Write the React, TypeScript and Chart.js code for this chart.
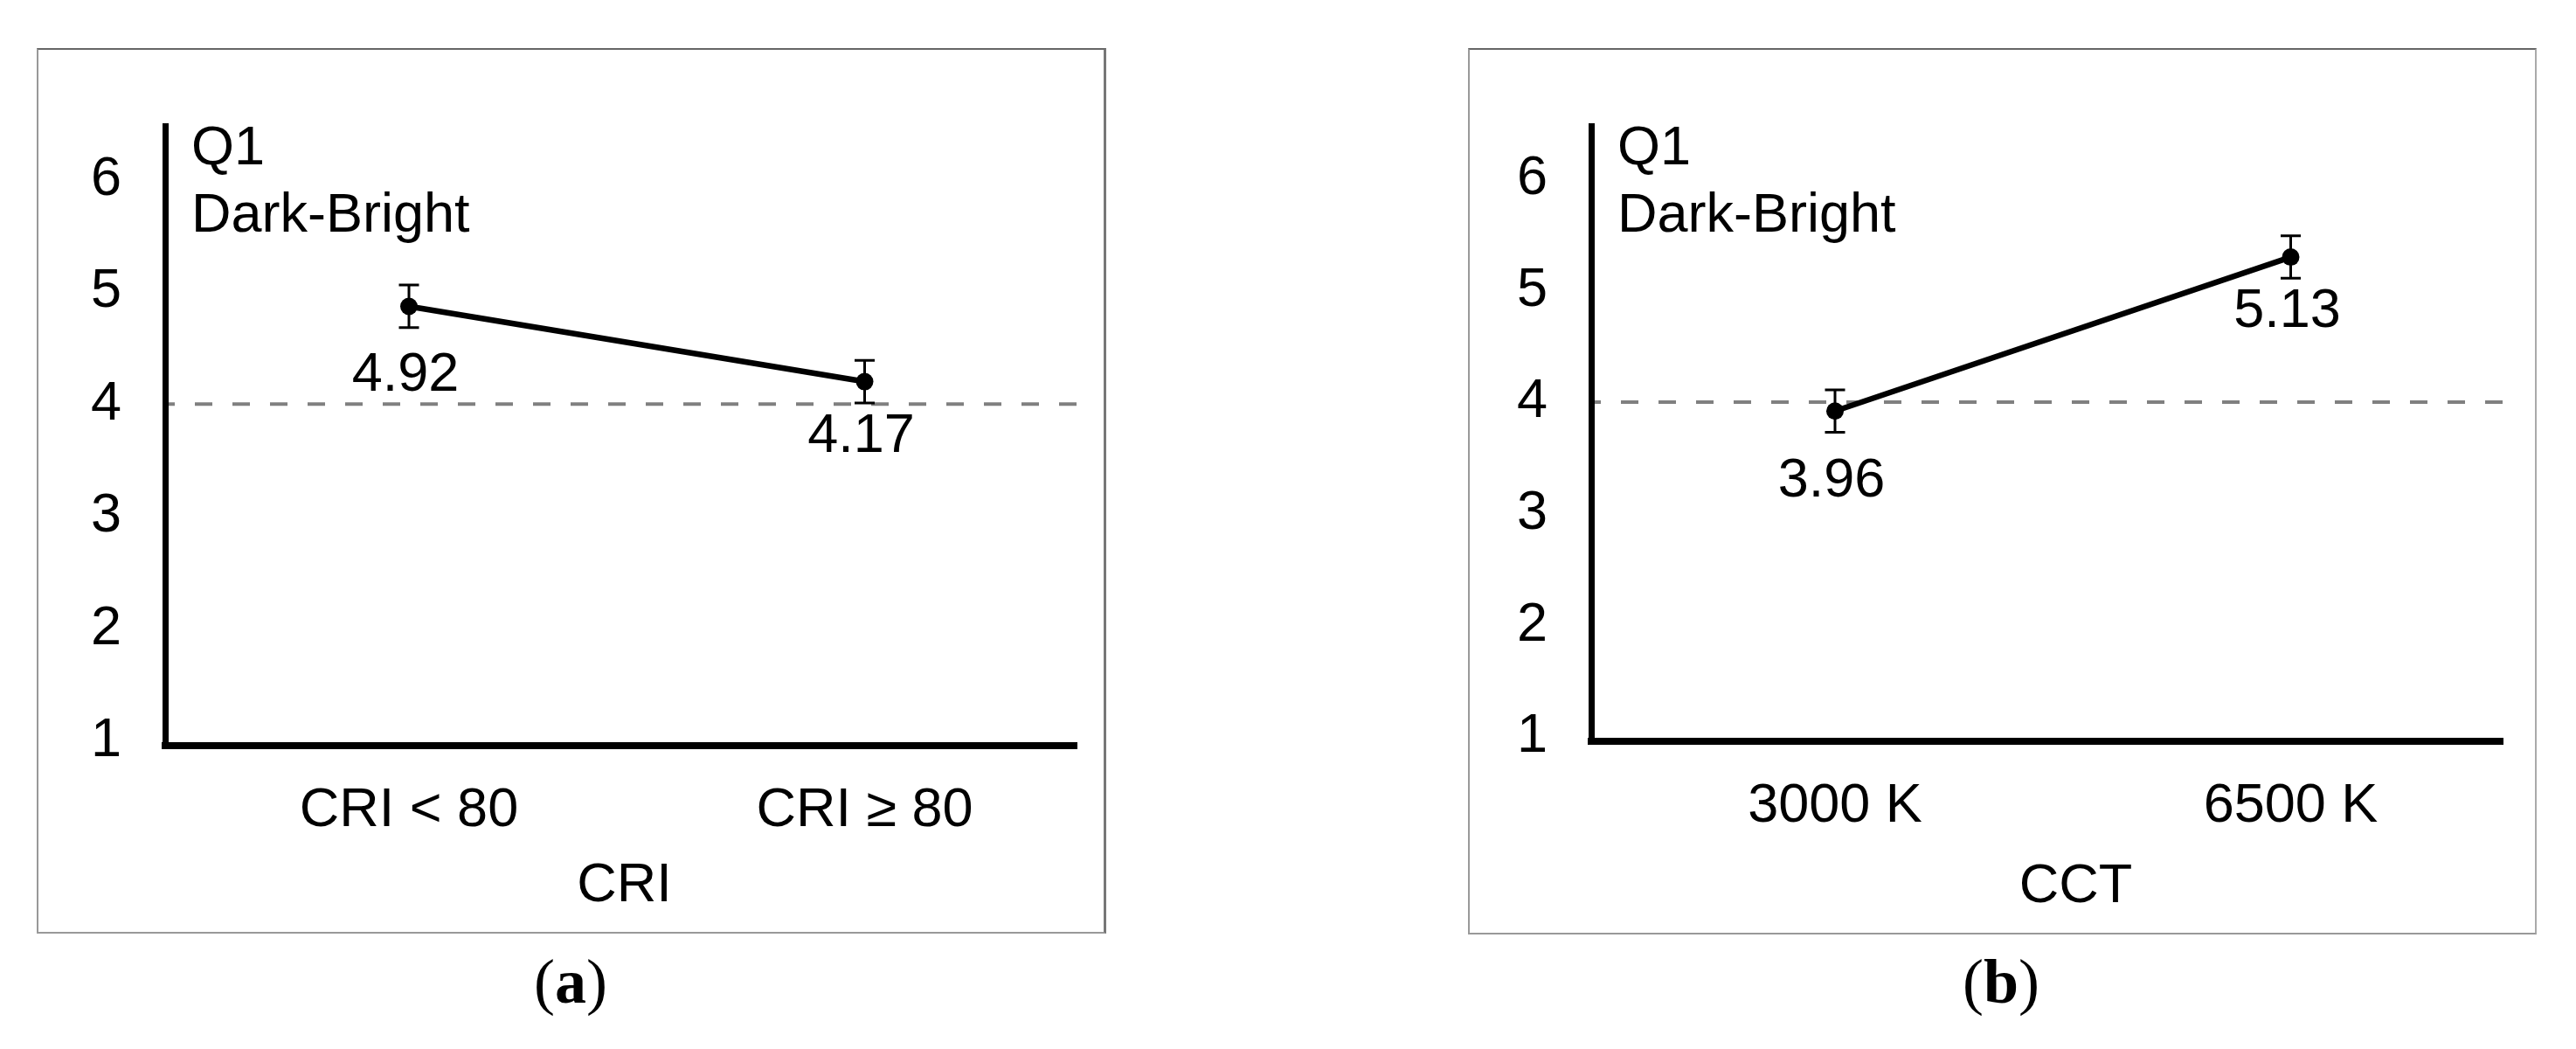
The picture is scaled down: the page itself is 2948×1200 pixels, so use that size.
import { useEffect, useRef } from "react";
import { Chart, registerables } from "chart.js";

Chart.register(...registerables);

// ---------- data ----------
const criCategories = ["CRI < 80", "CRI ≥ 80"];
const criMeans = [4.87, 4.2];
const criErrors = [0.19, 0.19];
const criLabels = ["4.92", "4.17"];

const cctCategories = ["3000 K", "6500 K"];
const cctMeans = [3.92, 5.3];
const cctErrors = [0.19, 0.19];
const cctLabels = ["3.96", "5.13"];

const yTickValues = [1, 2, 3, 4, 5, 6];
const referenceLevel = 4;
const questionLines = ["Q1", "Dark-Bright"];

// ---------- style ----------
const FONT = '"Liberation Sans", Arial, Helvetica, sans-serif';
const FONT_SIZE = 63;
const X_MIN = -0.535;
const X_MAX = 1.465;
const Y_MIN = 0.96;
const Y_MAX = 6.47;

type PanelSpec = {
  categories: string[];
  means: number[];
  errors: number[];
  labels: string[];
  labelDrop: number[];
  axisTitle: string;
  titleShift: number;
  titleDrop: number;
  frame: { left: number; top: number; width: number; height: number; rightBorder: string };
  padTop: number;
  padRight: number;
  yWidth: number;
  xHeight: number;
  caption: string;
  captionCenter: number;
};

const panels: PanelSpec[] = [
  {
    categories: criCategories,
    means: criMeans,
    errors: criErrors,
    labels: criLabels,
    labelDrop: [97, 80],
    axisTitle: "CRI",
    titleShift: 4,
    titleDrop: 178,
    frame: { left: 42, top: 55, width: 1219, height: 1009, rightBorder: "3px solid #777" },
    padTop: 84,
    padRight: 31,
    yWidth: 145,
    xHeight: 213,
    caption: "a",
    captionCenter: 653,
  },
  {
    categories: cctCategories,
    means: cctMeans,
    errors: cctErrors,
    labels: cctLabels,
    labelDrop: [98, 80],
    axisTitle: "CCT",
    titleShift: 33,
    titleDrop: 184,
    frame: { left: 1680, top: 55, width: 1219, height: 1010, rightBorder: "2px solid #aaa" },
    padTop: 79,
    padRight: 37,
    yWidth: 139,
    xHeight: 219,
    caption: "b",
    captionCenter: 2290,
  },
];

function makeChart(canvas: HTMLCanvasElement, spec: PanelSpec) {
  const font = { family: FONT, size: FONT_SIZE, lineHeight: 1.2 };
  const overlay = {
    id: "panelOverlay",
    afterDatasetsDraw(chart: any) {
      const { ctx, chartArea } = chart;
      const xs = chart.scales.x;
      const ys = chart.scales.y;
      ctx.save();
      // error bars
      ctx.strokeStyle = "#000";
      ctx.lineWidth = 3;
      spec.means.forEach((m, i) => {
        const px = xs.getPixelForValue(i);
        const top = ys.getPixelForValue(m + spec.errors[i]);
        const bot = ys.getPixelForValue(m - spec.errors[i]);
        ctx.beginPath();
        ctx.moveTo(px, top);
        ctx.lineTo(px, bot);
        ctx.moveTo(px - 11.5, top);
        ctx.lineTo(px + 11.5, top);
        ctx.moveTo(px - 11.5, bot);
        ctx.lineTo(px + 11.5, bot);
        ctx.stroke();
      });
      ctx.fillStyle = "#000";
      ctx.font = `${FONT_SIZE}px ${FONT}`;
      // value labels
      ctx.textAlign = "center";
      ctx.textBaseline = "alphabetic";
      spec.means.forEach((m, i) => {
        const px = xs.getPixelForValue(i) - 4;
        const py = ys.getPixelForValue(m) + spec.labelDrop[i];
        ctx.fillText(spec.labels[i], px, py);
      });
      // question text
      ctx.textAlign = "left";
      ctx.fillText(questionLines[0], chartArea.left + 30, chartArea.top + 43);
      ctx.fillText(questionLines[1], chartArea.left + 30, chartArea.top + 120);
      // axis title
      ctx.textAlign = "center";
      ctx.fillText(
        spec.axisTitle,
        (chartArea.left + chartArea.right) / 2 + spec.titleShift,
        chartArea.bottom + spec.titleDrop
      );
      ctx.restore();
    },
  };

  return new Chart(canvas, {
    type: "line",
    data: {
      datasets: [
        {
          data: spec.means.map((m, i) => ({ x: i, y: m })),
          borderColor: "#000",
          borderWidth: 6.5,
          pointRadius: 10,
          pointBackgroundColor: "#000",
          pointBorderWidth: 0,
          tension: 0,
          order: 1,
        },
        {
          data: [
            { x: X_MIN, y: referenceLevel },
            { x: X_MAX, y: referenceLevel },
          ],
          borderColor: "#808080",
          borderWidth: 4,
          borderDash: [20, 23],
          borderDashOffset: 9,
          pointRadius: 0,
          order: 2,
        },
      ],
    },
    options: {
      animation: false,
      responsive: false,
      maintainAspectRatio: false,
      devicePixelRatio: 1,
      events: [],
      layout: { padding: { left: 0, top: spec.padTop, right: spec.padRight, bottom: 0 } },
      plugins: { legend: { display: false }, tooltip: { enabled: false } },
      scales: {
        x: {
          type: "linear",
          min: X_MIN,
          max: X_MAX,
          afterBuildTicks: (s: any) => {
            s.ticks = spec.categories.map((_, i) => ({ value: i }));
          },
          afterFit: (s: any) => {
            s.height = spec.xHeight;
          },
          grid: { display: false, drawTicks: false },
          border: { display: true, width: 8, color: "#000", z: 1 },
          ticks: {
            font,
            color: "#000",
            padding: 37,
            maxRotation: 0,
            autoSkip: false,
            callback: (_v: any, index: number) => spec.categories[index] ?? "",
          },
        },
        y: {
          type: "linear",
          min: Y_MIN,
          max: Y_MAX,
          afterBuildTicks: (s: any) => {
            s.ticks = yTickValues.map((v) => ({ value: v }));
          },
          afterFit: (s: any) => {
            s.width = spec.yWidth;
          },
          grid: { display: false, drawTicks: false },
          border: { display: true, width: 7, color: "#000", z: 1 },
          ticks: {
            font,
            color: "#000",
            padding: 50,
            callback: (v: any) => String(v),
          },
        },
      },
    },
    plugins: [overlay],
  } as any);
}

function Panel({ spec }: { spec: PanelSpec }) {
  const ref = useRef<HTMLCanvasElement | null>(null);
  useEffect(() => {
    if (!ref.current) return;
    const chart = makeChart(ref.current, spec);
    return () => chart.destroy();
  }, [spec]);
  const f = spec.frame;
  return (
    <>
      <div
        style={{
          position: "absolute",
          left: f.left,
          top: f.top,
          width: f.width,
          height: f.height,
          borderTop: "2px solid #666",
          borderLeft: "2px solid #999",
          borderBottom: "2px solid #999",
          borderRight: f.rightBorder,
          background: "#fff",
        }}
      >
        <canvas
          ref={ref}
          width={f.width}
          height={f.height}
          style={{ display: "block", width: f.width, height: f.height }}
        />
      </div>
      <div
        style={{
          position: "absolute",
          left: spec.captionCenter - 150,
          top: 1087,
          width: 300,
          textAlign: "center",
          fontFamily: '"Liberation Serif", "Times New Roman", serif',
          fontSize: 72,
          lineHeight: "72px",
          color: "#000",
        }}
      >
        (<b>{spec.caption}</b>)
      </div>
    </>
  );
}

export default function App() {
  return (
    <div
      style={{
        position: "absolute",
        left: 0,
        top: 0,
        width: 2948,
        height: 1200,
        background: "#fff",
        overflow: "hidden",
      }}
    >
      {panels.map((p, i) => (
        <Panel key={i} spec={p} />
      ))}
    </div>
  );
}
